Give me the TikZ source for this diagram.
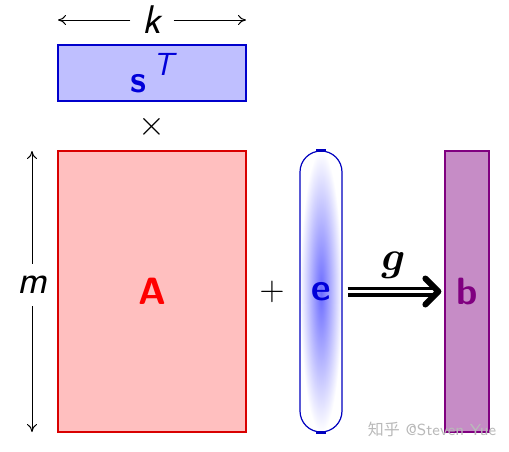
\documentclass[tikz,border=0pt]{standalone}
\usepackage{amsmath}
\usepackage{bm}
\usepackage{fontspec}
\newfontfamily\cjk{Noto Sans CJK SC}
\usetikzlibrary{arrows.meta}
\begin{document}
\begin{tikzpicture}[x=0.5pt,y=-0.5pt,
  big/.style={font=\fontsize{19}{22}\selectfont},
  lbl/.style={font=\fontsize{19}{22}\selectfont\sffamily\bfseries},
  dimlab/.style={font=\fontsize{20}{22}\selectfont\sffamily\slshape, inner sep=6pt},
  dim/.style={-{To[length=4pt,width=5pt]}, line width=0.5pt},
  matbox/.style={draw, line width=0.6pt, inner sep=0pt},
  dbl/.style={line width=1.7pt, double distance=1.6pt},
  chev/.style={line width=3pt, line cap=round, line join=round}
]
\useasboundingbox (0,0) rectangle (509,451);
% k dimension
\coordinate (kl) at (58,20);
\coordinate (kr) at (246,20);
\node[dimlab] (k) at (152,20) {k};
\draw[dim] (k) -- (kl);
\draw[dim] (k) -- (kr);
% s^T
\node[matbox, lbl, fill=blue!25, draw=blue!80!black, text=blue!85!black,
  minimum width=94pt, minimum height=28pt] (s) at (152,73)
  {s\,\raisebox{0.45em}{\fontsize{16}{18}\selectfont\mdseries\slshape T}};
\node[big] (times) at (152,127) {$\times$};
% A
\node[matbox, lbl, fill=red!25, draw=red!85!black, text=red,
  minimum width=94pt, minimum height=140.5pt] (A) at (152,291.5) {A};
% m dimension
\coordinate (mt) at (32,151);
\coordinate (mb) at (32,432);
\node[dimlab] (m) at (32,285) {m};
\draw[dim] (m) -- (mt);
\draw[dim] (m) -- (mb);
\node[big] (plus) at (272,292) {$+$};
% e
\node[lbl, draw=blue!75!black, line width=0.6pt, rounded corners=10.5pt,
  shade, inner color=blue!58, outer color=white, text=blue!85!black,
  minimum width=21pt, minimum height=140.5pt, inner sep=0pt] (e) at (321,291.5) {e};
\draw[blue!75!black, line width=1.2pt] ([xshift=-2.5pt]e.north) -- ([xshift=2.5pt]e.north);
\draw[blue!75!black, line width=1.2pt] ([xshift=-2.5pt]e.south) -- ([xshift=2.5pt]e.south);
% b
\node[matbox, lbl, fill=violet!45, draw=violet, text=violet,
  minimum width=22pt, minimum height=140.5pt] (b) at (467,291.5) {b};
% arrow
\draw[dbl, shorten <=2.5pt, shorten >=3.5pt] (e.east) -- node[above=2.5pt, font=\fontsize{21}{24}\selectfont]{$\bm{g}$} (b.west);
\draw[chev] ([xshift=-9.5pt,yshift=6.5pt]b.west) -- ([xshift=-3pt]b.west) -- ([xshift=-9.5pt,yshift=-6.5pt]b.west);
% watermark
\node[font=\fontsize{8}{10}\selectfont\sffamily, text=gray!55, inner sep=0pt] (wm) at (432,429) {{\cjk 知乎} @Steven Yue};
\end{tikzpicture}
\end{document}
